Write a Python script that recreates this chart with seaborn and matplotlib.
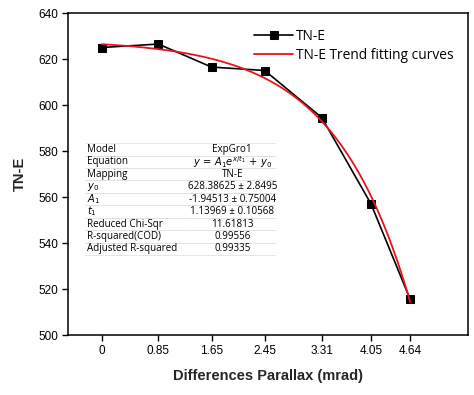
import numpy as np
import pandas as pd
import matplotlib
matplotlib.use("Agg")
import matplotlib.pyplot as plt
import seaborn as sns

# Data
parallax = [0, 0.85, 1.65, 2.45, 3.31, 4.05, 4.64]
tn_e = [625.0, 626.5, 616.5, 615.0, 594.5, 557.0, 515.5]
xtick_labels = ["0", "0.85", "1.65", "2.45", "3.31", "4.05", "4.64"]

# Fit parameters stated in the chart's table (ExpGro1)
y0_fit = 628.38625
A1_fit = -1.94513
t1_fit = 1.13969

table_labels = ["Model", "Equation", "Mapping", r"$y_0$", r"$A_1$", r"$t_1$",
                "Reduced Chi-Sqr", "R-squared(COD)", "Adjusted R-squared"]
table_values = ["ExpGro1", r"$y\,=\,A_1e^{x/t_1}\,+\,y_0$", "TN-E",
                "628.38625 ± 2.8495", "-1.94513 ± 0.75004", "1.13969 ± 0.10568",
                "11.61813", "0.99556", "0.99335"]

sns.set_style("ticks")
plt.rcParams['font.family'] = ['Liberation Sans', 'DejaVu Sans']

fig = plt.figure(figsize=(4.74, 3.95), dpi=100)
ax = fig.add_axes([68/474, 60/395, 400/474, 322/395])

df = pd.DataFrame({"x": parallax, "y": tn_e})
xs = np.linspace(min(parallax), max(parallax), 200)
fit_df = pd.DataFrame({"x": xs, "y": A1_fit * np.exp(xs / t1_fit) + y0_fit})

sns.lineplot(data=df, x="x", y="y", ax=ax, color="black", marker="s",
             markersize=5.5, markeredgecolor="black", linewidth=1.2, label="TN-E")
sns.lineplot(data=fit_df, x="x", y="y", ax=ax, color="#e8141b", linewidth=1.3,
             label="TN-E Trend fitting curves")

ax.set_xlim(-0.51, 5.51)
ax.set_ylim(500, 640)
ax.set_xticks(parallax)
ax.set_xticklabels(xtick_labels)
ax.set_yticks(np.arange(500, 641, 20))
ax.tick_params(axis="both", direction="out", length=4, width=1, labelsize=8.5,
               colors="black", pad=3)
for s in ax.spines.values():
    s.set_linewidth(1.1)
    s.set_color("black")
    s.set_visible(True)

ax.set_xlabel("Differences Parallax (mrad)", fontsize=10.5, fontweight="bold", labelpad=9)
ax.set_ylabel("TN-E", fontsize=10.5, fontweight="bold", labelpad=8)

leg = ax.legend(loc="upper left", bbox_to_anchor=(0.435, 0.99), frameon=False,
                handlelength=2.8, handletextpad=0.2, labelspacing=0.3,
                prop={"family": ["Open Sans", "DejaVu Sans"], "size": 9.9})
for t in leg.get_texts():
    t.set_color("black")

cell_text = [[l, v] for l, v in zip(table_labels, table_values)]
tbl = ax.table(cellText=cell_text, colWidths=[0.55, 0.45], cellLoc="center",
               bbox=[0.0425, 0.248, 0.475, 0.348], edges="horizontal")
tbl.auto_set_font_size(False)
for (r, c), cell in tbl.get_celld().items():
    cell.set_edgecolor("#e2e2e2")
    cell.set_linewidth(0.6)
    cell.set_facecolor("white")
    t = cell.get_text()
    t.set_fontsize(7.1)
    t.set_color("black")
    t.set_fontfamily(["Open Sans", "DejaVu Sans"])
    if c == 0:
        t.set_horizontalalignment("left")
        cell.PAD = 0.015
    else:
        t.set_horizontalalignment("center")

fig.savefig("out.png", dpi=100)
